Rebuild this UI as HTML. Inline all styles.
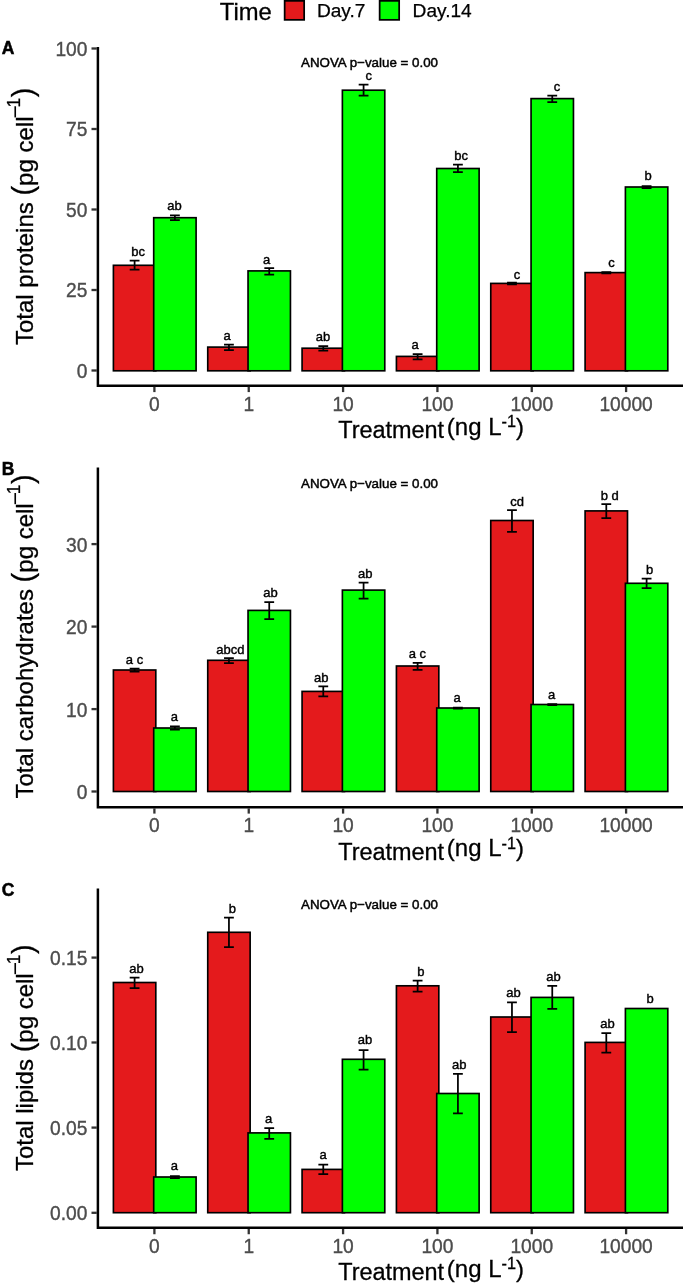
<!DOCTYPE html>
<html><head><meta charset="utf-8"><title>Figure</title>
<style>
html,body{margin:0;padding:0;background:#fff;}
svg{display:block;font-family:"Liberation Sans",sans-serif;}
.tk{font-size:19.2px;fill:#4d4d4d;stroke:#4d4d4d;stroke-width:0.35px;}
.lb{font-size:13px;fill:#000;stroke:#000;stroke-width:0.4px;}
.an{font-size:13.35px;fill:#000;stroke:#000;stroke-width:0.45px;}
.ti{font-size:24px;fill:#000;stroke:#000;stroke-width:0.3px;}
.pl{font-size:17.5px;font-weight:bold;fill:#000;stroke:#000;stroke-width:0.5px;}
.lg{font-size:19.1px;fill:#000;stroke:#000;stroke-width:0.25px;}
</style></head><body>
<svg width="685" height="1285" viewBox="0 0 685 1285">
<rect x="0" y="0" width="685" height="1285" fill="#ffffff"/>
<g>
<text x="219.8" y="19.8" style="font-size:23.8px;stroke:#000;stroke-width:0.3px" fill="#000">Time</text>
<rect x="284.65" y="0.85" width="19.5" height="19.0" fill="#E41A1C" stroke="#000" stroke-width="1.75"/>
<text class="lg" x="316.9" y="16.7">Day.7</text>
<rect x="379.65" y="0.85" width="19.5" height="19.0" fill="#00FF00" stroke="#000" stroke-width="1.75"/>
<text class="lg" x="412.6" y="16.7">Day.14</text>
</g>
<g>
<text class="pl" transform="translate(1.7 53.7) scale(1 1.1)">A</text>
<rect x="113.40" y="265.30" width="42.4" height="105.50" fill="#E41A1C" stroke="#000" stroke-width="1.65"/>
<rect x="153.70" y="217.70" width="42.4" height="153.10" fill="#00FF00" stroke="#000" stroke-width="1.65"/>
<path d="M129.70 260.70H139.50M129.70 269.70H139.50M134.60 260.70V269.70" fill="none" stroke="#000" stroke-width="1.75"/>
<text class="lb" x="138.2" y="255.7" text-anchor="middle">bc</text>
<path d="M170.00 215.40H179.80M170.00 220.00H179.80M174.90 215.40V220.00" fill="none" stroke="#000" stroke-width="1.75"/>
<text class="lb" x="174.5" y="210.4" text-anchor="middle">ab</text>
<rect x="207.74" y="347.10" width="42.4" height="23.70" fill="#E41A1C" stroke="#000" stroke-width="1.65"/>
<rect x="248.04" y="270.90" width="42.4" height="99.90" fill="#00FF00" stroke="#000" stroke-width="1.65"/>
<path d="M224.04 344.70H233.84M224.04 350.00H233.84M228.94 344.70V350.00" fill="none" stroke="#000" stroke-width="1.75"/>
<text class="lb" x="227.0" y="339.8" text-anchor="middle">a</text>
<path d="M264.34 268.00H274.14M264.34 274.70H274.14M269.24 268.00V274.70" fill="none" stroke="#000" stroke-width="1.75"/>
<text class="lb" x="266.7" y="263.6" text-anchor="middle">a</text>
<rect x="302.08" y="348.20" width="42.4" height="22.60" fill="#E41A1C" stroke="#000" stroke-width="1.65"/>
<rect x="342.38" y="90.20" width="42.4" height="280.60" fill="#00FF00" stroke="#000" stroke-width="1.65"/>
<path d="M318.38 346.20H328.18M318.38 350.60H328.18M323.28 346.20V350.60" fill="none" stroke="#000" stroke-width="1.75"/>
<text class="lb" x="323.0" y="341.2" text-anchor="middle">ab</text>
<path d="M358.68 84.70H368.48M358.68 95.50H368.48M363.58 84.70V95.50" fill="none" stroke="#000" stroke-width="1.75"/>
<text class="lb" x="368.8" y="80.0" text-anchor="middle">c</text>
<rect x="396.42" y="356.40" width="42.4" height="14.40" fill="#E41A1C" stroke="#000" stroke-width="1.65"/>
<rect x="436.72" y="168.50" width="42.4" height="202.30" fill="#00FF00" stroke="#000" stroke-width="1.65"/>
<path d="M412.72 354.00H422.52M412.72 359.30H422.52M417.62 354.00V359.30" fill="none" stroke="#000" stroke-width="1.75"/>
<text class="lb" x="415.0" y="349.0" text-anchor="middle">a</text>
<path d="M453.02 164.70H462.82M453.02 172.00H462.82M457.92 164.70V172.00" fill="none" stroke="#000" stroke-width="1.75"/>
<text class="lb" x="461.2" y="159.7" text-anchor="middle">bc</text>
<rect x="490.76" y="283.40" width="42.4" height="87.40" fill="#E41A1C" stroke="#000" stroke-width="1.65"/>
<rect x="531.06" y="98.60" width="42.4" height="272.20" fill="#00FF00" stroke="#000" stroke-width="1.65"/>
<path d="M507.06 282.70H516.86M507.06 284.30H516.86M511.96 282.70V284.30" fill="none" stroke="#000" stroke-width="1.75"/>
<text class="lb" x="517.1" y="278.5" text-anchor="middle">c</text>
<path d="M547.36 95.70H557.16M547.36 102.10H557.16M552.26 95.70V102.10" fill="none" stroke="#000" stroke-width="1.75"/>
<text class="lb" x="557.1" y="91.3" text-anchor="middle">c</text>
<rect x="585.10" y="272.60" width="42.4" height="98.20" fill="#E41A1C" stroke="#000" stroke-width="1.65"/>
<rect x="625.40" y="187.00" width="42.4" height="183.80" fill="#00FF00" stroke="#000" stroke-width="1.65"/>
<path d="M601.40 272.00H611.20M601.40 273.40H611.20M606.30 272.00V273.40" fill="none" stroke="#000" stroke-width="1.75"/>
<text class="lb" x="611.4" y="267.4" text-anchor="middle">c</text>
<path d="M641.70 186.00H651.50M641.70 188.20H651.50M646.60 186.00V188.20" fill="none" stroke="#000" stroke-width="1.75"/>
<text class="lb" x="648.0" y="179.5" text-anchor="middle">b</text>
<text class="an" x="301.0" y="66.9">ANOVA p−value = 0.00</text>
<path d="M97.9 47.0V385.7H683.0" fill="none" stroke="#000" stroke-width="2.5" stroke-linejoin="miter"/>
<line x1="91.5" x2="96.80000000000001" y1="370.5" y2="370.5" stroke="#333" stroke-width="2.3"/>
<text class="tk" transform="translate(87.4 377.9) scale(1 1.1)" text-anchor="end">0</text>
<line x1="91.5" x2="96.80000000000001" y1="290.0" y2="290.0" stroke="#333" stroke-width="2.3"/>
<text class="tk" transform="translate(87.4 297.4) scale(1 1.1)" text-anchor="end">25</text>
<line x1="91.5" x2="96.80000000000001" y1="209.5" y2="209.5" stroke="#333" stroke-width="2.3"/>
<text class="tk" transform="translate(87.4 216.9) scale(1 1.1)" text-anchor="end">50</text>
<line x1="91.5" x2="96.80000000000001" y1="129.0" y2="129.0" stroke="#333" stroke-width="2.3"/>
<text class="tk" transform="translate(87.4 136.4) scale(1 1.1)" text-anchor="end">75</text>
<line x1="91.5" x2="96.80000000000001" y1="48.5" y2="48.5" stroke="#333" stroke-width="2.3"/>
<text class="tk" transform="translate(87.4 55.9) scale(1 1.1)" text-anchor="end">100</text>
<line x1="154.4" x2="154.4" y1="386.8" y2="392.09999999999997" stroke="#333" stroke-width="2.3"/>
<text class="tk" transform="translate(154.4 410.8) scale(1 1.1)" text-anchor="middle">0</text>
<line x1="248.74" x2="248.74" y1="386.8" y2="392.09999999999997" stroke="#333" stroke-width="2.3"/>
<text class="tk" transform="translate(248.74 410.8) scale(1 1.1)" text-anchor="middle">1</text>
<line x1="343.08" x2="343.08" y1="386.8" y2="392.09999999999997" stroke="#333" stroke-width="2.3"/>
<text class="tk" transform="translate(343.08 410.8) scale(1 1.1)" text-anchor="middle">10</text>
<line x1="437.42" x2="437.42" y1="386.8" y2="392.09999999999997" stroke="#333" stroke-width="2.3"/>
<text class="tk" transform="translate(437.42 410.8) scale(1 1.1)" text-anchor="middle">100</text>
<line x1="531.76" x2="531.76" y1="386.8" y2="392.09999999999997" stroke="#333" stroke-width="2.3"/>
<text class="tk" transform="translate(531.76 410.8) scale(1 1.1)" text-anchor="middle">1000</text>
<line x1="626.1" x2="626.1" y1="386.8" y2="392.09999999999997" stroke="#333" stroke-width="2.3"/>
<text class="tk" transform="translate(626.1 410.8) scale(1 1.1)" text-anchor="middle">10000</text>
<text class="ti" style="font-size:23.45px" x="338.2" y="438.3">Treatment</text>
<text class="ti" x="446.8" y="434.5">(ng L<tspan dy="-7.4" style="font-size:16.3px">-1</tspan><tspan dy="7.4">)</tspan></text>
<text class="ti" transform="translate(32.6 345.0) rotate(-90)">Total proteins <tspan style="font-size:29px" dy="0.5">(</tspan><tspan dy="-0.5">pg cell</tspan><tspan dy="-10.1" dx="-1.9" style="font-size:23px;stroke-width:0">−</tspan><tspan dy="-2.5" dx="-2.5" style="font-size:17.5px">1</tspan><tspan dy="13.1" dx="0.5" style="font-size:29px">)</tspan></text>
</g>
<g>
<text class="pl" transform="translate(1.7 474.5) scale(1 1.1)">B</text>
<rect x="113.40" y="670.00" width="42.4" height="121.50" fill="#E41A1C" stroke="#000" stroke-width="1.65"/>
<rect x="153.70" y="728.00" width="42.4" height="63.50" fill="#00FF00" stroke="#000" stroke-width="1.65"/>
<path d="M129.70 668.50H139.50M129.70 671.60H139.50M134.60 668.50V671.60" fill="none" stroke="#000" stroke-width="1.75"/>
<text class="lb" x="134.5" y="663.9" text-anchor="middle">a c</text>
<path d="M170.00 726.40H179.80M170.00 729.50H179.80M174.90 726.40V729.50" fill="none" stroke="#000" stroke-width="1.75"/>
<text class="lb" x="174.4" y="721.4" text-anchor="middle">a</text>
<rect x="207.74" y="660.30" width="42.4" height="131.20" fill="#E41A1C" stroke="#000" stroke-width="1.65"/>
<rect x="248.04" y="610.40" width="42.4" height="181.10" fill="#00FF00" stroke="#000" stroke-width="1.65"/>
<path d="M224.04 658.00H233.84M224.04 663.00H233.84M228.94 658.00V663.00" fill="none" stroke="#000" stroke-width="1.75"/>
<text class="lb" x="230.3" y="653.5" text-anchor="middle">abcd</text>
<path d="M264.34 602.20H274.14M264.34 619.10H274.14M269.24 602.20V619.10" fill="none" stroke="#000" stroke-width="1.75"/>
<text class="lb" x="270.5" y="596.6" text-anchor="middle">ab</text>
<rect x="302.08" y="691.40" width="42.4" height="100.10" fill="#E41A1C" stroke="#000" stroke-width="1.65"/>
<rect x="342.38" y="590.10" width="42.4" height="201.40" fill="#00FF00" stroke="#000" stroke-width="1.65"/>
<path d="M318.38 686.40H328.18M318.38 696.40H328.18M323.28 686.40V696.40" fill="none" stroke="#000" stroke-width="1.75"/>
<text class="lb" x="321.2" y="681.8" text-anchor="middle">ab</text>
<path d="M358.68 582.50H368.48M358.68 598.50H368.48M363.58 582.50V598.50" fill="none" stroke="#000" stroke-width="1.75"/>
<text class="lb" x="365.3" y="578.1" text-anchor="middle">ab</text>
<rect x="396.42" y="666.00" width="42.4" height="125.50" fill="#E41A1C" stroke="#000" stroke-width="1.65"/>
<rect x="436.72" y="708.00" width="42.4" height="83.50" fill="#00FF00" stroke="#000" stroke-width="1.65"/>
<path d="M412.72 662.80H422.52M412.72 669.80H422.52M417.62 662.80V669.80" fill="none" stroke="#000" stroke-width="1.75"/>
<text class="lb" x="417.3" y="658.4" text-anchor="middle">a c</text>
<path d="M453.02 707.50H462.82M453.02 708.70H462.82M457.92 707.50V708.70" fill="none" stroke="#000" stroke-width="1.75"/>
<text class="lb" x="457.0" y="701.6" text-anchor="middle">a</text>
<rect x="490.76" y="520.50" width="42.4" height="271.00" fill="#E41A1C" stroke="#000" stroke-width="1.65"/>
<rect x="531.06" y="704.50" width="42.4" height="87.00" fill="#00FF00" stroke="#000" stroke-width="1.65"/>
<path d="M507.06 510.00H516.86M507.06 531.90H516.86M511.96 510.00V531.90" fill="none" stroke="#000" stroke-width="1.75"/>
<text class="lb" x="517.1" y="505.6" text-anchor="middle">cd</text>
<path d="M547.36 704.00H557.16M547.36 705.20H557.16M552.26 704.00V705.20" fill="none" stroke="#000" stroke-width="1.75"/>
<text class="lb" x="551.6" y="699.2" text-anchor="middle">a</text>
<rect x="585.10" y="510.90" width="42.4" height="280.60" fill="#E41A1C" stroke="#000" stroke-width="1.65"/>
<rect x="625.40" y="583.30" width="42.4" height="208.20" fill="#00FF00" stroke="#000" stroke-width="1.65"/>
<path d="M601.40 504.20H611.20M601.40 518.20H611.20M606.30 504.20V518.20" fill="none" stroke="#000" stroke-width="1.75"/>
<text class="lb" x="609.8" y="499.8" text-anchor="middle">b d</text>
<path d="M641.70 578.60H651.50M641.70 588.00H651.50M646.60 578.60V588.00" fill="none" stroke="#000" stroke-width="1.75"/>
<text class="lb" x="649.7" y="573.6" text-anchor="middle">b</text>
<text class="an" x="301.0" y="488.0">ANOVA p−value = 0.00</text>
<path d="M97.9 467.5V807.2H683.0" fill="none" stroke="#000" stroke-width="2.5" stroke-linejoin="miter"/>
<line x1="91.5" x2="96.80000000000001" y1="791.5" y2="791.5" stroke="#333" stroke-width="2.3"/>
<text class="tk" transform="translate(87.4 798.9) scale(1 1.1)" text-anchor="end">0</text>
<line x1="91.5" x2="96.80000000000001" y1="709.1" y2="709.1" stroke="#333" stroke-width="2.3"/>
<text class="tk" transform="translate(87.4 716.5) scale(1 1.1)" text-anchor="end">10</text>
<line x1="91.5" x2="96.80000000000001" y1="626.6" y2="626.6" stroke="#333" stroke-width="2.3"/>
<text class="tk" transform="translate(87.4 634.0) scale(1 1.1)" text-anchor="end">20</text>
<line x1="91.5" x2="96.80000000000001" y1="544.1" y2="544.1" stroke="#333" stroke-width="2.3"/>
<text class="tk" transform="translate(87.4 551.5) scale(1 1.1)" text-anchor="end">30</text>
<line x1="154.4" x2="154.4" y1="808.3000000000001" y2="813.6" stroke="#333" stroke-width="2.3"/>
<text class="tk" transform="translate(154.4 832.3) scale(1 1.1)" text-anchor="middle">0</text>
<line x1="248.74" x2="248.74" y1="808.3000000000001" y2="813.6" stroke="#333" stroke-width="2.3"/>
<text class="tk" transform="translate(248.74 832.3) scale(1 1.1)" text-anchor="middle">1</text>
<line x1="343.08" x2="343.08" y1="808.3000000000001" y2="813.6" stroke="#333" stroke-width="2.3"/>
<text class="tk" transform="translate(343.08 832.3) scale(1 1.1)" text-anchor="middle">10</text>
<line x1="437.42" x2="437.42" y1="808.3000000000001" y2="813.6" stroke="#333" stroke-width="2.3"/>
<text class="tk" transform="translate(437.42 832.3) scale(1 1.1)" text-anchor="middle">100</text>
<line x1="531.76" x2="531.76" y1="808.3000000000001" y2="813.6" stroke="#333" stroke-width="2.3"/>
<text class="tk" transform="translate(531.76 832.3) scale(1 1.1)" text-anchor="middle">1000</text>
<line x1="626.1" x2="626.1" y1="808.3000000000001" y2="813.6" stroke="#333" stroke-width="2.3"/>
<text class="tk" transform="translate(626.1 832.3) scale(1 1.1)" text-anchor="middle">10000</text>
<text class="ti" style="font-size:23.45px" x="338.2" y="859.8">Treatment</text>
<text class="ti" x="446.8" y="856.0">(ng L<tspan dy="-7.4" style="font-size:16.3px">-1</tspan><tspan dy="7.4">)</tspan></text>
<text class="ti" transform="translate(32.6 798.5) rotate(-90)">Total carbohydrates <tspan style="font-size:29px" dy="0.5">(</tspan><tspan dy="-0.5">pg cell</tspan><tspan dy="-10.1" dx="-1.9" style="font-size:23px;stroke-width:0">−</tspan><tspan dy="-2.5" dx="-2.5" style="font-size:17.5px">1</tspan><tspan dy="13.1" dx="0.5" style="font-size:29px">)</tspan></text>
</g>
<g>
<text class="pl" transform="translate(1.7 895.5) scale(1 1.1)">C</text>
<rect x="113.40" y="982.50" width="42.4" height="230.20" fill="#E41A1C" stroke="#000" stroke-width="1.65"/>
<rect x="153.70" y="1177.00" width="42.4" height="35.70" fill="#00FF00" stroke="#000" stroke-width="1.65"/>
<path d="M129.70 977.70H139.50M129.70 988.00H139.50M134.60 977.70V988.00" fill="none" stroke="#000" stroke-width="1.75"/>
<text class="lb" x="136.5" y="973.1" text-anchor="middle">ab</text>
<path d="M170.00 1176.00H179.80M170.00 1178.00H179.80M174.90 1176.00V1178.00" fill="none" stroke="#000" stroke-width="1.75"/>
<text class="lb" x="174.4" y="1170.2" text-anchor="middle">a</text>
<rect x="207.74" y="932.30" width="42.4" height="280.40" fill="#E41A1C" stroke="#000" stroke-width="1.65"/>
<rect x="248.04" y="1132.90" width="42.4" height="79.80" fill="#00FF00" stroke="#000" stroke-width="1.65"/>
<path d="M224.04 917.70H233.84M224.04 947.00H233.84M228.94 917.70V947.00" fill="none" stroke="#000" stroke-width="1.75"/>
<text class="lb" x="232.3" y="912.8" text-anchor="middle">b</text>
<path d="M264.34 1128.00H274.14M264.34 1138.80H274.14M269.24 1128.00V1138.80" fill="none" stroke="#000" stroke-width="1.75"/>
<text class="lb" x="268.5" y="1122.7" text-anchor="middle">a</text>
<rect x="302.08" y="1169.40" width="42.4" height="43.30" fill="#E41A1C" stroke="#000" stroke-width="1.65"/>
<rect x="342.38" y="1059.30" width="42.4" height="153.40" fill="#00FF00" stroke="#000" stroke-width="1.65"/>
<path d="M318.38 1164.50H328.18M318.38 1174.10H328.18M323.28 1164.50V1174.10" fill="none" stroke="#000" stroke-width="1.75"/>
<text class="lb" x="323.0" y="1159.2" text-anchor="middle">a</text>
<path d="M358.68 1050.00H368.48M358.68 1069.60H368.48M363.58 1050.00V1069.60" fill="none" stroke="#000" stroke-width="1.75"/>
<text class="lb" x="365.0" y="1044.2" text-anchor="middle">ab</text>
<rect x="396.42" y="985.80" width="42.4" height="226.90" fill="#E41A1C" stroke="#000" stroke-width="1.65"/>
<rect x="436.72" y="1093.50" width="42.4" height="119.20" fill="#00FF00" stroke="#000" stroke-width="1.65"/>
<path d="M412.72 980.50H422.52M412.72 991.60H422.52M417.62 980.50V991.60" fill="none" stroke="#000" stroke-width="1.75"/>
<text class="lb" x="420.8" y="975.5" text-anchor="middle">b</text>
<path d="M453.02 1073.90H462.82M453.02 1113.40H462.82M457.92 1073.90V1113.40" fill="none" stroke="#000" stroke-width="1.75"/>
<text class="lb" x="459.3" y="1068.7" text-anchor="middle">ab</text>
<rect x="490.76" y="1017.00" width="42.4" height="195.70" fill="#E41A1C" stroke="#000" stroke-width="1.65"/>
<rect x="531.06" y="997.40" width="42.4" height="215.30" fill="#00FF00" stroke="#000" stroke-width="1.65"/>
<path d="M507.06 1002.40H516.86M507.06 1032.20H516.86M511.96 1002.40V1032.20" fill="none" stroke="#000" stroke-width="1.75"/>
<text class="lb" x="513.6" y="997.4" text-anchor="middle">ab</text>
<path d="M547.36 985.80H557.16M547.36 1008.80H557.16M552.26 985.80V1008.80" fill="none" stroke="#000" stroke-width="1.75"/>
<text class="lb" x="553.6" y="981.1" text-anchor="middle">ab</text>
<rect x="585.10" y="1042.40" width="42.4" height="170.30" fill="#E41A1C" stroke="#000" stroke-width="1.65"/>
<rect x="625.40" y="1008.50" width="42.4" height="204.20" fill="#00FF00" stroke="#000" stroke-width="1.65"/>
<path d="M601.40 1033.00H611.20M601.40 1052.60H611.20M606.30 1033.00V1052.60" fill="none" stroke="#000" stroke-width="1.75"/>
<text class="lb" x="607.6" y="1027.8" text-anchor="middle">ab</text>
<text class="lb" x="650.0" y="1003.3" text-anchor="middle">b</text>
<text class="an" x="301.0" y="908.6">ANOVA p−value = 0.00</text>
<path d="M97.9 888.4V1227.85H683.0" fill="none" stroke="#000" stroke-width="2.5" stroke-linejoin="miter"/>
<line x1="91.5" x2="96.80000000000001" y1="1212.8" y2="1212.8" stroke="#333" stroke-width="2.3"/>
<text class="tk" transform="translate(87.4 1220.2) scale(1 1.1)" text-anchor="end">0.00</text>
<line x1="91.5" x2="96.80000000000001" y1="1127.6" y2="1127.6" stroke="#333" stroke-width="2.3"/>
<text class="tk" transform="translate(87.4 1135.0) scale(1 1.1)" text-anchor="end">0.05</text>
<line x1="91.5" x2="96.80000000000001" y1="1042.5" y2="1042.5" stroke="#333" stroke-width="2.3"/>
<text class="tk" transform="translate(87.4 1049.9) scale(1 1.1)" text-anchor="end">0.10</text>
<line x1="91.5" x2="96.80000000000001" y1="957.6" y2="957.6" stroke="#333" stroke-width="2.3"/>
<text class="tk" transform="translate(87.4 965.0) scale(1 1.1)" text-anchor="end">0.15</text>
<line x1="154.4" x2="154.4" y1="1228.9499999999998" y2="1234.25" stroke="#333" stroke-width="2.3"/>
<text class="tk" transform="translate(154.4 1252.9) scale(1 1.1)" text-anchor="middle">0</text>
<line x1="248.74" x2="248.74" y1="1228.9499999999998" y2="1234.25" stroke="#333" stroke-width="2.3"/>
<text class="tk" transform="translate(248.74 1252.9) scale(1 1.1)" text-anchor="middle">1</text>
<line x1="343.08" x2="343.08" y1="1228.9499999999998" y2="1234.25" stroke="#333" stroke-width="2.3"/>
<text class="tk" transform="translate(343.08 1252.9) scale(1 1.1)" text-anchor="middle">10</text>
<line x1="437.42" x2="437.42" y1="1228.9499999999998" y2="1234.25" stroke="#333" stroke-width="2.3"/>
<text class="tk" transform="translate(437.42 1252.9) scale(1 1.1)" text-anchor="middle">100</text>
<line x1="531.76" x2="531.76" y1="1228.9499999999998" y2="1234.25" stroke="#333" stroke-width="2.3"/>
<text class="tk" transform="translate(531.76 1252.9) scale(1 1.1)" text-anchor="middle">1000</text>
<line x1="626.1" x2="626.1" y1="1228.9499999999998" y2="1234.25" stroke="#333" stroke-width="2.3"/>
<text class="tk" transform="translate(626.1 1252.9) scale(1 1.1)" text-anchor="middle">10000</text>
<text class="ti" style="font-size:23.45px" x="338.2" y="1280.4">Treatment</text>
<text class="ti" x="446.8" y="1276.6">(ng L<tspan dy="-7.4" style="font-size:16.3px">-1</tspan><tspan dy="7.4">)</tspan></text>
<text class="ti" transform="translate(32.6 1171.1) rotate(-90)">Total lipids <tspan style="font-size:29px" dy="0.5">(</tspan><tspan dy="-0.5">pg cell</tspan><tspan dy="-10.1" dx="-1.9" style="font-size:23px;stroke-width:0">−</tspan><tspan dy="-2.5" dx="-2.5" style="font-size:17.5px">1</tspan><tspan dy="13.1" dx="0.5" style="font-size:29px">)</tspan></text>
</g>
</svg>
</body></html>
